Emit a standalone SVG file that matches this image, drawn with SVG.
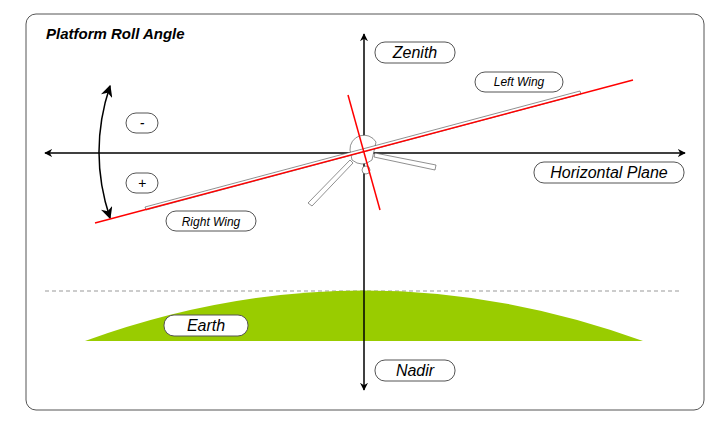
<svg xmlns="http://www.w3.org/2000/svg" width="718" height="423" viewBox="0 0 718 423">
<style>
.lbl{fill:#fff;stroke:#555;stroke-width:1}
.t{font-family:"Liberation Sans",Arial,sans-serif;font-style:italic;fill:#000}
.ax{stroke:#000;stroke-width:1.5;fill:none}
.red{stroke:#f00;stroke-width:1.5;fill:none}
.thin{stroke:#444;stroke-width:0.6;fill:#fff}
</style>
<defs>
<marker id="ah" viewBox="0 0 10 10" refX="9" refY="5" markerWidth="8" markerHeight="8" orient="auto-start-reverse" markerUnits="userSpaceOnUse"><path d="M0,0 L10,5 L0,10 L3,5 z" fill="#000"/></marker>
<marker id="ab" viewBox="0 0 10 10" refX="9" refY="5" markerWidth="12" markerHeight="12" orient="auto-start-reverse" markerUnits="userSpaceOnUse"><path d="M0,0 L10,5 L0,10 L3,5 z" fill="#000"/></marker>
</defs>
<rect x="26" y="14" width="678" height="396" rx="10" fill="#fff" stroke="#555"/>
<text class="t" x="46" y="39" font-size="15" font-weight="bold">Platform Roll Angle</text>
<line x1="45" y1="291" x2="682" y2="291" stroke="#999" stroke-dasharray="4,3"/>
<path id="earth" d="M85,341 Q364,240 643,341 Z" fill="#99cc00"/>
<g id="connectors">
<line class="ax" x1="364" y1="34" x2="364" y2="390" marker-start="url(#ah)" marker-end="url(#ah)"/>
<line class="ax" x1="45" y1="153" x2="685" y2="153" marker-start="url(#ah)" marker-end="url(#ah)"/>
<path class="ax" d="M110,86 Q88,152 110,218" stroke-width="2" marker-start="url(#ab)" marker-end="url(#ab)"/>
</g>
<g id="aircraft">
<polygon class="thin" points="308,203 350,160 353,163 312,206"/>
<polygon class="thin" points="375,153 436,165 435,170 374,157"/>
<path class="thin" d="M350,150 A14,14 0 0 1 376,142 L372,160 Q362,168 352,160 Z"/>
<circle class="thin" cx="366" cy="170" r="4"/>
<polygon class="thin" points="145,207 580,91 581,94 146,210"/>
<line class="red" x1="95" y1="223" x2="633" y2="80"/>
<line class="red" x1="348" y1="95" x2="380" y2="210"/>
</g>
<g id="zenith"><rect class="lbl" x="375" y="42" width="80" height="21" rx="10"/><text class="t" x="415" y="58" font-size="16" text-anchor="middle">Zenith</text></g>
<g id="leftwing"><rect class="lbl" x="475" y="72" width="88" height="20" rx="10"/><text class="t" x="519" y="86" font-size="12" text-anchor="middle">Left Wing</text></g>
<g id="horiz"><rect class="lbl" x="534" y="162" width="150" height="21" rx="10"/><text class="t" x="609" y="178" font-size="16" text-anchor="middle">Horizontal Plane</text></g>
<g id="rightwing"><rect class="lbl" x="166" y="211" width="90" height="20" rx="10"/><text class="t" x="211" y="226" font-size="12" text-anchor="middle">Right Wing</text></g>
<g id="earthlbl"><rect class="lbl" x="164" y="315" width="84" height="21" rx="10"/><text class="t" x="206" y="331" font-size="16" text-anchor="middle">Earth</text></g>
<g id="nadir"><rect class="lbl" x="375" y="360" width="80" height="21" rx="10"/><text class="t" x="415" y="376" font-size="16" text-anchor="middle">Nadir</text></g>
<g id="minus"><rect class="lbl" x="126" y="113" width="32" height="20" rx="10"/><text class="t" x="142" y="128" font-size="14" text-anchor="middle">-</text></g>
<g id="plus"><rect class="lbl" x="126" y="173" width="32" height="20" rx="10"/><text class="t" x="142" y="188" font-size="14" text-anchor="middle">+</text></g>
</svg>
